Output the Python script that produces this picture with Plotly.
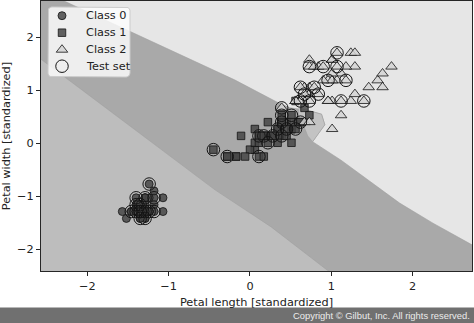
import numpy as np
import plotly.graph_objects as go

# Standardized petal measurements (x = petal length, y = petal width)
class0_x = [-1.35, -1.35, -1.40, -1.29, -1.35, -1.18, -1.35, -1.29, -1.35, -1.29,
            -1.29, -1.24, -1.35, -1.52, -1.46, -1.29, -1.40, -1.35, -1.18, -1.29,
            -1.18, -1.29, -1.57, -1.18, -1.07, -1.24, -1.24, -1.29, -1.35, -1.24,
            -1.24, -1.29, -1.29, -1.35, -1.29, -1.46, -1.40, -1.35, -1.40, -1.29,
            -1.40, -1.40, -1.40, -1.24, -1.07, -1.35, -1.24, -1.35, -1.29, -1.35]
class0_y = [-1.29, -1.29, -1.29, -1.29, -1.29, -1.03, -1.16, -1.29, -1.29, -1.42,
            -1.29, -1.29, -1.42, -1.42, -1.29, -1.03, -1.03, -1.16, -1.16, -1.16,
            -1.29, -1.03, -1.29, -0.90, -1.29, -1.29, -1.03, -1.29, -1.29, -1.29,
            -1.29, -1.03, -1.42, -1.29, -1.29, -1.29, -1.29, -1.42, -1.29, -1.29,
            -1.16, -1.16, -1.29, -0.77, -1.03, -1.16, -1.29, -1.29, -1.29, -1.29]

class1_x = [0.51, 0.39, 0.62, 0.11, 0.45, 0.39, 0.51, -0.28, 0.45, 0.06,
            -0.17, 0.22, 0.11, 0.51, -0.11, 0.34, 0.39, 0.17, 0.39, 0.06,
            0.56, 0.11, 0.62, 0.51, 0.28, 0.34, 0.56, 0.67, 0.39, -0.17,
            0.00, -0.06, 0.06, 0.73, 0.39, 0.39, 0.51, 0.34, 0.17, 0.11,
            0.34, 0.45, 0.11, -0.28, 0.22, 0.22, 0.22, 0.28, -0.45, 0.17]
class1_y = [0.27, 0.40, 0.40, 0.14, 0.40, 0.14, 0.53, -0.25, 0.14, 0.27,
            -0.25, 0.40, -0.25, 0.27, 0.14, 0.27, 0.40, -0.25, 0.40, -0.12,
            0.80, 0.14, 0.40, 0.01, 0.14, 0.27, 0.27, 0.67, 0.40, -0.25,
            -0.12, -0.25, 0.01, 0.53, 0.40, 0.53, 0.40, 0.14, 0.14, 0.14,
            0.01, 0.27, 0.01, -0.25, 0.14, 0.01, 0.14, 0.14, -0.12, 0.14]

class2_x = [1.24, 0.73, 1.18, 1.01, 1.12, 1.57, 0.39, 1.40, 1.12, 1.29,
            0.73, 0.84, 0.96, 0.67, 0.73, 0.84, 0.96, 1.63, 1.74, 0.67,
            1.07, 0.62, 1.63, 0.62, 1.07, 1.24, 0.56, 0.62, 1.01, 1.12,
            1.29, 1.46, 1.01, 0.73, 1.01, 1.29, 1.01, 0.96, 0.56, 0.90,
            1.01, 0.73, 0.73, 1.18, 1.07, 0.79, 0.67, 0.79, 0.90, 0.73]
class2_y = [1.71, 0.93, 1.19, 0.80, 1.32, 1.19, 0.67, 0.80, 0.80, 1.71,
            1.06, 0.93, 1.19, 1.06, 1.58, 1.45, 0.80, 1.32, 1.45, 0.40,
            1.45, 1.06, 1.06, 0.80, 1.19, 0.80, 0.80, 0.80, 1.19, 0.53,
            0.93, 1.06, 1.32, 0.40, 0.27, 1.45, 1.58, 0.80, 0.80, 1.19,
            1.58, 1.45, 0.93, 1.45, 1.71, 1.45, 0.93, 1.06, 1.45, 0.80]

# Held-out samples (circled)
test_x = [-1.24, -1.40, -1.29, -1.18, -1.35, -1.40, -1.35, -1.29, -1.40, -1.24,
          -1.35, -1.29, -1.46, -1.35, -1.18,
          -0.45, -0.28, 0.11, 0.11, 0.34, 0.39, 0.51, 0.56, 0.39, 0.62,
          0.17, 0.45, 0.28, 0.39, 0.22,
          1.07, 0.73, 0.90, 1.07, 0.96, 1.18, 0.62, 0.79, 0.84, 0.62,
          0.73, 1.12, 1.40, 0.39, 0.67]
test_y = [-0.77, -1.03, -1.03, -1.03, -1.16, -1.16, -1.29, -1.29, -1.29, -1.29,
          -1.42, -1.42, -1.29, -1.29, -1.29,
          -0.12, -0.25, -0.25, 0.14, 0.27, 0.40, 0.53, 0.27, 0.53, 0.40,
          0.14, 0.27, 0.14, 0.14, 0.01,
          1.71, 1.45, 1.45, 1.45, 1.19, 1.19, 1.06, 1.06, 0.93, 0.80,
          0.80, 0.80, 0.80, 0.67, 0.93]

# Decision-region outlines of the classifier (class 1 fills the remaining area)
region0_x = [-2.80, -2.57, -0.43, 0.26, 0.96, 1.11, -2.80]
region0_y = [1.86, 1.59, -0.88, -1.58, -2.41, -2.60, -2.60]
region2_x = [-2.71, -2.34, -1.44, -0.19, 0.33, 0.49, 0.70, 0.88, 0.92, 0.83,
             0.77, 1.12, 1.29, 1.84, 2.25, 2.74, 3.07, 3.10, -2.71]
region2_y = [2.99, 2.73, 2.09, 1.20, 0.78, 0.67, 0.63, 0.55, 0.35, 0.16,
             0.03, -0.32, -0.51, -1.13, -1.51, -1.92, -2.21, 3.10, 3.10]
island_x = [0.60, 0.70, 0.88, 0.92, 0.83, 0.77, 0.71, 0.66, 0.60]
island_y = [0.67, 0.63, 0.55, 0.35, 0.16, 0.03, 0.14, 0.33, 0.50]

x_ticks = [-2, -1, 0, 1, 2]
y_ticks = [-2, -1, 0, 1, 2]
tick_text = ["\u22122", "\u22121", "0", "1", "2"]

legend_labels = ["Class 0", "Class 1", "Class 2", "Test set"]

FONT = "DejaVu Sans"
INK = "#222222"
fig = go.Figure()

for rx, ry, col in [(region0_x, region0_y, "#bdbdbd"),
                    (region2_x, region2_y, "#e6e6e6"),
                    (island_x, island_y, "#c3c3c3")]:
    fig.add_trace(go.Scatter(x=rx, y=ry, mode="lines", fill="toself", fillcolor=col,
                             line=dict(color="#a0a0a0", width=0.6),
                             hoverinfo="skip", showlegend=False))

edge = dict(color="#141414", width=0.8)
styles = [
    dict(symbol="circle", size=8, color="rgba(70,70,70,0.85)", line=edge),
    dict(symbol="square", size=7.5, color="rgba(70,70,70,0.85)", line=edge),
    dict(symbol="triangle-up", size=10, color="rgba(212,212,212,0.85)", line=edge),
    dict(symbol="circle", size=12.5, color="rgba(0,0,0,0)",
         line=dict(color="#141414", width=1)),
]
series = [(class0_x, class0_y), (class1_x, class1_y), (class2_x, class2_y),
          (test_x, test_y)]
for (sx, sy), st, name in zip(series, styles, legend_labels):
    fig.add_trace(go.Scatter(x=sx, y=sy, mode="markers", name=name, marker=st,
                             showlegend=False))

# Legend panel on a pixel-unit overlay (x: 41..472 px, y: 1..271 px from top)
bx0, bx1, by0, by1, rad = 48, 130, 7, 77, 4
corners = [(bx1 - rad, by1 - rad, 0), (bx0 + rad, by1 - rad, 90),
           (bx0 + rad, by0 + rad, 180), (bx1 - rad, by0 + rad, 270)]
px, py = [], []
for cx, cy, a0 in corners:
    ang = np.radians(np.linspace(a0, a0 + 90, 7))
    px += list(cx + rad * np.cos(ang))
    py += list(cy + rad * np.sin(ang))
px.append(px[0]); py.append(py[0])
fig.add_trace(go.Scatter(x=px, y=py, xaxis="x2", yaxis="y2", mode="lines",
                         fill="toself", fillcolor="rgba(255,255,255,0.8)",
                         line=dict(color="#cccccc", width=1),
                         hoverinfo="skip", showlegend=False))
row_y = [15.7, 32.7, 49.7, 66.2]
for ry, st in zip(row_y, styles):
    fig.add_trace(go.Scatter(x=[62], y=[ry], xaxis="x2", yaxis="y2", mode="markers",
                             marker=st, hoverinfo="skip", showlegend=False))

annotations = [dict(text=lab, xref="x2", yref="y2", x=83.5, y=ry, xanchor="left",
                    yanchor="middle", showarrow=False,
                    font=dict(family=FONT, size=11.3, color=INK))
               for lab, ry in zip(legend_labels, row_y)]
annotations.append(dict(text="Copyright \u00a9 Gilbut, Inc. All rights reserved.",
                        xref="paper", yref="paper", x=1.0, y=-0.165,
                        xanchor="right", yanchor="middle", showarrow=False,
                        font=dict(family="Liberation Sans", size=9.4, color="#ececec")))

axis_common = dict(showgrid=False, zeroline=False, showline=True, mirror=True,
                   linecolor="#262626", linewidth=1, ticks="outside", ticklen=4,
                   tickwidth=0.9, tickcolor="#262626",
                   tickfont=dict(family=FONT, size=11.3, color=INK))

fig.update_layout(
    width=474, height=323,
    margin=dict(l=41, r=2, t=1, b=52, autoexpand=False),
    paper_bgcolor="white", plot_bgcolor="#a9a9a9",
    font=dict(family=FONT, size=11.3, color=INK),
    showlegend=False,
    xaxis=dict(range=[-2.57, 2.73], tickvals=x_ticks, ticktext=tick_text,
               title=dict(text="Petal length [standardized]", standoff=6,
                          font=dict(family=FONT, size=11.3, color=INK)),
               **axis_common),
    yaxis=dict(range=[-2.414, 2.69], tickvals=y_ticks, ticktext=tick_text,
               title=dict(text="Petal width [standardized]", standoff=6,
                          font=dict(family=FONT, size=11.3, color=INK)),
               **axis_common),
    xaxis2=dict(overlaying="x", anchor="y2", range=[41, 472], visible=False,
                showgrid=False, zeroline=False, fixedrange=True),
    yaxis2=dict(overlaying="y", anchor="x2", range=[271, 1], visible=False,
                showgrid=False, zeroline=False, fixedrange=True),
    shapes=[dict(type="rect", xref="paper", yref="paper", x0=-0.11, x1=1.02,
                 y0=-0.2, y1=-0.135, fillcolor="#707070", line=dict(width=0),
                 layer="above")],
    annotations=annotations,
)

fig.write_html("out.html")
